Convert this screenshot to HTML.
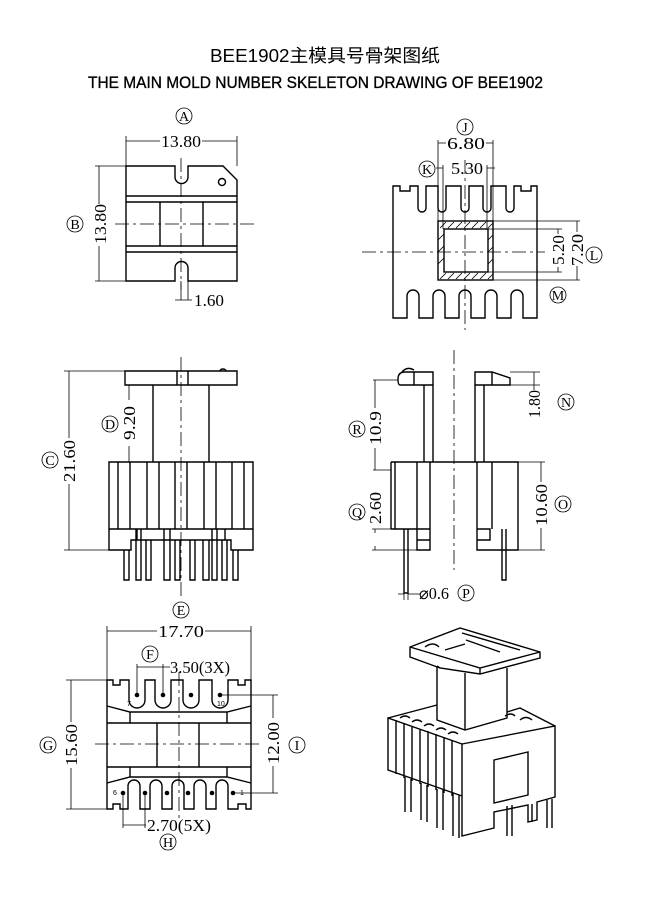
<!DOCTYPE html>
<html><head><meta charset="utf-8"><style>
html,body{margin:0;padding:0;background:#fff;width:650px;height:920px;overflow:hidden}
svg{display:block}
.t{font-family:"Liberation Serif","Noto Serif CJK SC",serif;font-size:17px;fill:#000}
.c{font-family:"Liberation Serif",serif;font-size:12px;fill:#000}
</style></head><body>
<svg width="650" height="920" viewBox="0 0 650 920" xmlns="http://www.w3.org/2000/svg">
<text x="325" y="62" text-anchor="middle" textLength="230" lengthAdjust="spacingAndGlyphs" style="font-family:'Liberation Sans','Noto Sans CJK SC',sans-serif;font-size:18px">BEE1902主模具号骨架图纸</text>
<text x="88" y="88" textLength="455" lengthAdjust="spacingAndGlyphs" style="font-family:'Liberation Sans',sans-serif;font-size:17px;stroke:#000;stroke-width:0.35">THE MAIN MOLD NUMBER SKELETON DRAWING OF BEE1902</text>

<g fill="none" stroke="#000" stroke-width="1.4">
<path d="M126,166 H175 V177 A6.5,6.5 0 0 0 188,177 V166 H223 L237,180 V281 H188 V268 A6.5,6.5 0 0 0 175,268 V281 H126 Z"/>
<circle cx="222" cy="182" r="3.5"/>
<path d="M126,196 H237 M126,202 H237 M126,246 H237 M126,252 H237 M160,202 V246 M203,202 V246"/>
<path stroke-width="0.8" d="M126,166 V136 M237,166 V136 M126,141 H160 M202,141 H237 M126,166 H95 M126,281 H95 M99,166 V204 M99,246 V281 M181,281 V300 M188,281 V300 M175,300 H192"/>
<path stroke-width="0.8" stroke-dasharray="14,4,3,4" d="M115,224 H257 M181,158 V290"/>

<path d="M393,318 V186 H400 V191 H410 V186 H418 V208 A4,4 0 0 0 426,208 V186 H438 V208 A4,4 0 0 0 446,208 V186 H461 V208 A4,4 0 0 0 469,208 V186 H483 V208 A4,4 0 0 0 491,208 V186 H506 V208 A4,4 0 0 0 514,208 V186 H521 V191 H531 V186 H537 V318 H523 V296 A6,6 0 0 0 511,296 V318 H497 V296 A6,6 0 0 0 485,296 V318 H471 V296 A6,6 0 0 0 459,296 V318 H445 V296 A6,6 0 0 0 433,296 V318 H419 V296 A6,6 0 0 0 407,296 V318 Z"/>
<rect x="438" y="221" width="55" height="59"/>
<rect x="444" y="229" width="44" height="43"/>
<path stroke-width="0.8" d="M440,228 l6,-6 M448,228 l6,-6 M456,228 l6,-6 M464,228 l6,-6 M472,228 l6,-6 M480,228 l6,-6 M488,228 l5,-5 M440,279 l6,-6 M448,279 l6,-6 M456,279 l6,-6 M464,279 l6,-6 M472,279 l6,-6 M480,279 l6,-6 M488,279 l5,-5 M438,240 l6,-6 M438,252 l6,-6 M438,264 l6,-6 M488,240 l5,-5 M488,252 l5,-5 M488,264 l5,-5"/>
<path stroke-width="0.8" d="M438,221 V140 M493,221 V140 M438,143 H446 M486,143 H493 M443,229 V165 M487,229 V165 M436,168 H443 M487,168 H495 M493,221 H580 M488,229 H562 M488,272 H562 M493,280 H580 M558,229 V234 M558,267 V272 M577,221 V232 M577,266 V280"/>
<path stroke-width="0.8" stroke-dasharray="14,4,3,4" d="M362,252 H545 M465,160 V330"/>

<path d="M125,371 H237 V385 H125 Z M153,385 V462 M209,385 V462 M177,371 V385 M188,371 V385"/>
<path d="M220,371 a3,2 0 0 1 6,0"/>
<path d="M109,462 H253 V529 H109 Z M118,462 V529 M130,462 V529 M147,462 V529 M159,462 V529 M175,462 V529 M187,462 V529 M204,462 V529 M216,462 V529 M232,462 V529 M244,462 V529"/>
<path d="M109,529 V550 H131 V540 H137 V529 M253,529 V550 H231 V540 H225 V529 M137,540 H225"/>
<path d="M124,550 V580 H129 V550 M136,529 V580 H141 V529 M146,540 V580 H151 V540 M164,529 V580 H170 V529 M175,540 V580 H180 V540 M190,540 V580 H195 V540 M203,540 V580 H209 V540 M212,529 V580 H217 V529 M222,540 V580 H227 V540 M233,550 V580 H238 V550"/>
<path stroke-width="0.8" d="M125,371 H64 M109,550 H64 M69,371 V438 M69,484 V550 M129,385 V400 M129,446 V462"/>
<path stroke-width="0.8" stroke-dasharray="14,4,3,4" d="M181,357 V600"/>

<path d="M398,379 Q398,372 405,372 H433 V385 H400 Q398,385 398,379 Z M414,372 V385 M402,372 q5,-6 12,-2"/>
<path d="M475,372 H492 L510,378 V385 H475 Z M492,372 V385"/>
<path d="M424,385 V462 M433,385 V462 M475,385 V462 M484,385 V462"/>
<path d="M391,462 H518 V550 H477 V529 M391,462 V529 M395,462 V529 M417,462 V550 H430 V462 M430,529 H420 M477,462 V529 M492,462 V529 M430,462 V529 H425 M477,529 H490 V540 H477 M430,540 H417 M391,529 H430"/>
<path d="M404,529 V593 H408 V529 M502,529 V580 H506 V529"/>
<path stroke-width="0.8" d="M398,380 H373 M391,470 H373 M375,380 V408 M375,448 V470 M391,529 H372 M417,550 H372 M375,529 V533 M375,546 V550 M510,372 H540 M510,385 H540 M534,372 V390 M477,462 H545 M518,550 H545 M541,462 V482 M541,528 V550 M404,593 V600 M408,593 V600 M398,594 H404 M408,594 H420"/>
<path stroke-width="0.8" stroke-dasharray="14,4,3,4" d="M454,350 V570"/>

<path d="M107,809 V680 H113 V685 H120 V680 H129 V700 A8,8 0 0 0 145,700 V680 H155 V700 A8,8 0 0 0 171,700 V680 H183 V700 A8,8 0 0 0 199,700 V680 H212 V700 A8,8 0 0 0 228,700 V680 H238 V685 H245 V680 H251 V809 H246 V804 H238 V809 H228 V786 A6,6 0 0 0 216,786 V809 H206 V786 A6,6 0 0 0 194,786 V809 H184 V786 A6,6 0 0 0 172,786 V809 H162 V786 A6,6 0 0 0 150,786 V809 H140 V786 A6,6 0 0 0 128,786 V809 H120 V804 H113 V809 Z"/>
<path d="M107,706 L130,712 H227 L251,706 M130,712 V723 M227,712 V723 M107,723 H251 M107,767 H251 M130,767 V777 M227,767 V777 M107,783 L130,777 H227 L251,783 M157,723 V767 M199,723 V767"/>
<g fill="#000" stroke="none"><circle cx="137" cy="695" r="2.3"/><circle cx="163" cy="695" r="2.3"/><circle cx="191" cy="695" r="2.3"/><circle cx="220" cy="695" r="2.3"/><circle cx="123" cy="793" r="2.3"/><circle cx="145" cy="793" r="2.3"/><circle cx="167" cy="793" r="2.3"/><circle cx="188" cy="793" r="2.3"/><circle cx="212" cy="793" r="2.3"/><circle cx="233" cy="793" r="2.3"/></g>
<path stroke-width="0.8" d="M107,680 V626 M251,680 V626 M107,631 H157 M205,631 H251 M137,695 V664 M163,695 V664 M137,667 H170 M107,680 H66 M107,809 H66 M71,680 V722 M71,768 V809 M220,695 H278 M233,793 H278 M273,695 V718 M273,766 V793 M123,793 V828 M145,793 V828 M123,825 H146"/>
<path stroke-width="0.8" stroke-dasharray="14,4,3,4" d="M95,744 H262 M179,672 V820"/>

<path d="M410,647 L460,628 L540,652 L540,658 L480,674 L440,668 L410,657 Z M410,647 L480,668 L540,652 M480,668 V674 M440,668 L437,666 M425,647 q8,-6 14,0 M462,633 L520,650 M466,640 L500,652 M445,650 l20,-6"/>
<path d="M437,666 V720 L465,730 L507,718 V668 M465,673 V730"/>
<path d="M462,744 L555,726 V797 L537,802 V820 L528,822 V805 L494,812 V828 L462,836 Z M462,744 L388,718 V770 L462,796 M494,760 L528,752 V795 L494,803 Z"/>
<path d="M388,718 L437,705 M507,712 L520,708 L555,726"/>
<path d="M396,720 V774 M404,723 V778 M412,726 V781 M420,729 V784 M428,731 V787 M436,734 V790 M444,737 V793 M452,740 V796 M400,718 q5,-4 10,0 M412,722 q5,-4 10,0 M424,726 q5,-4 10,0 M436,730 q5,-4 10,0 M448,734 q5,-4 10,0 M520,720 q6,-5 12,0 M505,716 q6,-4 10,0"/>
<path d="M405,777 V812 M411,779 V812 M421,783 V820 M427,785 V822 M437,789 V828 M443,790 V830 M453,793 V836 M459,795 V838 M507,806 V836 M512,805 V836 M532,804 V822 M547,800 V828 M552,799 V828"/>
</g>

<g class="t">
<text x="161" y="147" textLength="40" lengthAdjust="spacingAndGlyphs">13.80</text>
<text x="194" y="306" textLength="30" lengthAdjust="spacingAndGlyphs">1.60</text>
<text transform="translate(106,224) rotate(-90)" text-anchor="middle" textLength="40" lengthAdjust="spacingAndGlyphs">13.80</text>
<text x="447" y="149" textLength="38" lengthAdjust="spacingAndGlyphs">6.80</text>
<text x="451" y="174" textLength="32" lengthAdjust="spacingAndGlyphs">5.30</text>
<text transform="translate(564,250) rotate(-90)" text-anchor="middle" textLength="30" lengthAdjust="spacingAndGlyphs">5.20</text>
<text transform="translate(583,250) rotate(-90)" text-anchor="middle" textLength="32" lengthAdjust="spacingAndGlyphs">7.20</text>
<text transform="translate(75,461) rotate(-90)" text-anchor="middle" textLength="42" lengthAdjust="spacingAndGlyphs">21.60</text>
<text transform="translate(135,423) rotate(-90)" text-anchor="middle" textLength="34" lengthAdjust="spacingAndGlyphs">9.20</text>
<text transform="translate(381,428) rotate(-90)" text-anchor="middle" textLength="34" lengthAdjust="spacingAndGlyphs">10.9</text>
<text transform="translate(381,508) rotate(-90)" text-anchor="middle" textLength="32" lengthAdjust="spacingAndGlyphs">2.60</text>
<text transform="translate(540,404) rotate(-90)" text-anchor="middle" textLength="28" lengthAdjust="spacingAndGlyphs">1.80</text>
<text transform="translate(547,505) rotate(-90)" text-anchor="middle" textLength="42" lengthAdjust="spacingAndGlyphs">10.60</text>
<text x="419" y="599" textLength="30" lengthAdjust="spacingAndGlyphs">⌀0.6</text>
<text x="158" y="637" textLength="46" lengthAdjust="spacingAndGlyphs">17.70</text>
<text x="170" y="673" textLength="60" lengthAdjust="spacingAndGlyphs">3.50(3X)</text>
<text transform="translate(77,745) rotate(-90)" text-anchor="middle" textLength="42" lengthAdjust="spacingAndGlyphs">15.60</text>
<text transform="translate(279,743) rotate(-90)" text-anchor="middle" textLength="42" lengthAdjust="spacingAndGlyphs">12.00</text>
<text x="147" y="831" textLength="64" lengthAdjust="spacingAndGlyphs">2.70(5X)</text>
</g>
<g style="font-family:'Liberation Sans',sans-serif;font-size:7px">
<text x="127" y="706">7</text><text x="217" y="706">10</text><text x="113" y="795">6</text><text x="240" y="795">1</text>
</g>
<g fill="none" stroke="#000" stroke-width="0.8">
<circle cx="184" cy="116" r="8"/><circle cx="75" cy="224" r="8"/><circle cx="465" cy="127" r="8"/><circle cx="427" cy="169" r="8"/><circle cx="594" cy="255" r="8"/><circle cx="558" cy="295" r="8"/>
<circle cx="110" cy="424" r="8"/><circle cx="50" cy="460" r="8"/><circle cx="181" cy="610" r="8"/>
<circle cx="357" cy="429" r="8"/><circle cx="357" cy="512" r="8"/><circle cx="566" cy="402" r="8"/><circle cx="563" cy="504" r="8"/><circle cx="466" cy="593" r="8"/>
<circle cx="150" cy="654" r="8"/><circle cx="48" cy="745" r="8"/><circle cx="297" cy="745" r="8"/><circle cx="168" cy="842" r="8"/>
</g>
<g class="c" text-anchor="middle" style="font-size:14px">
<text x="184" y="121">A</text><text x="75" y="229">B</text><text x="465" y="132">J</text><text x="427" y="174">K</text><text x="594" y="260">L</text><text x="558" y="300">M</text>
<text x="110" y="429">D</text><text x="50" y="465">C</text><text x="181" y="615">E</text>
<text x="357" y="434">R</text><text x="357" y="517">Q</text><text x="566" y="407">N</text><text x="563" y="509">O</text><text x="466" y="598">P</text>
<text x="150" y="659">F</text><text x="48" y="750">G</text><text x="297" y="750">I</text><text x="168" y="847">H</text>
</g>
</svg>
</body></html>
